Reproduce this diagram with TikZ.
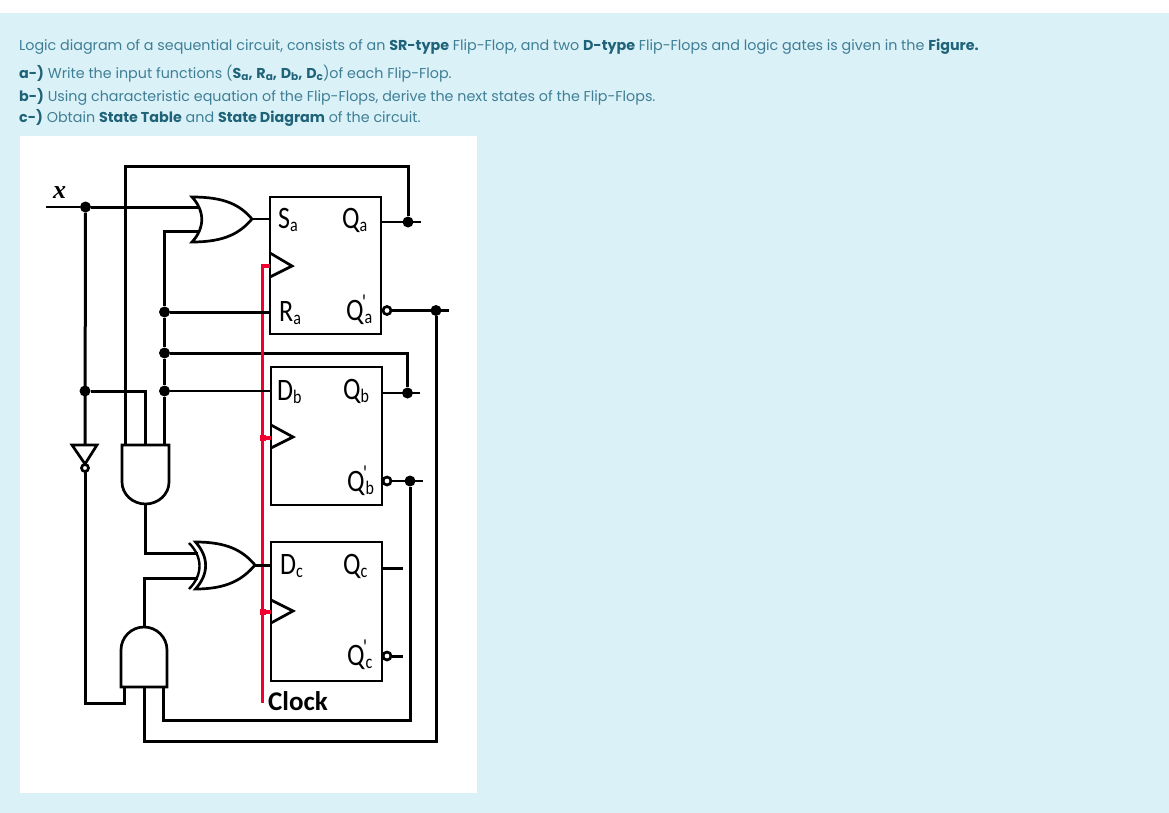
\documentclass[tikz,border=0pt]{standalone}
\usepackage{graphicx}
\usepackage{fontspec}
\setmainfont{Poppins}
\newfontfamily\cali{Carlito}
\newfontfamily\timesf{Liberation Serif}
\definecolor{pagebg}{HTML}{DBF1F8}
\definecolor{bodytxt}{HTML}{3F7F95}
\definecolor{boldtxt}{HTML}{1F6379}
\definecolor{clk}{HTML}{F0002E}
\newcommand{\bt}[1]{\textcolor{boldtxt}{\bfseries #1}}
\newcommand{\bsub}[2]{\textcolor{boldtxt}{\bfseries #1\raisebox{-2.5pt}{\fontsize{10.5}{11}\selectfont #2}}}
\newcommand{\pin}[2]{\scalebox{1}[1.2]{\cali\fontsize{26}{26}\selectfont #1\raisebox{-2.5pt}{\fontsize{16}{16}\selectfont #2}}}
\newcommand{\pinn}[2]{\scalebox{1}[1.2]{\cali\fontsize{26}{26}\selectfont #1\rlap{\raisebox{9pt}{\fontsize{18}{18}\selectfont\kern-1.5pt\textquotesingle}}\raisebox{-2.5pt}{\fontsize{16}{16}\selectfont\kern1pt #2}}}
\tikzset{
  x=1pt,y=-1pt,
  wire/.style={line width=3pt,black},
  thinwire/.style={line width=3pt,black},
  pinwire/.style={line width=2.8pt,black},
  clkwire/.style={line width=3.2pt,clk},
  gate/.style={line width=2.7pt,black,fill=white,line join=miter},
  ffbox/.style={draw=black,line width=2.7pt,fill=white,minimum width=111pt,inner sep=0pt,outer sep=0pt},
  dot/.style={circle,fill=black,inner sep=0pt,minimum size=11pt},
  bub/.style={circle,draw=black,line width=2.7pt,fill=white,inner sep=0pt,minimum size=8pt},
  rdot/.style={rectangle,fill=clk,inner sep=0pt,minimum size=6pt},
  txt/.style={anchor=base west,inner sep=0pt,text=bodytxt,font=\fontsize{14.3}{16}\selectfont},
  pinlbl/.style={inner sep=0pt,text=black,anchor=base west},
}
\begin{document}
\begin{tikzpicture}
\useasboundingbox (0,0) rectangle (1169,813);
\fill[pagebg] (0,13) rectangle (1169,813);
\fill[white] (20,136) rectangle (477,793);

\node[txt] (l1) at (19,50.5) {Logic diagram of a sequential circuit, consists of an \bt{SR-type} Flip-Flop, and two \bt{D-type} Flip-Flops and logic gates is given in the \bt{Figure.}};
\node[txt] (l2) at (19,78.5) {\bt{a-)} Write the input functions (\bsub{S}{a}\bt{,} \bsub{R}{a}\bt{,} \bsub{D}{b}\bt{,} \bsub{D}{c})of each Flip-Flop.};
\node[txt] (l3) at (19,101.5) {\bt{b-)} Using characteristic equation of the Flip-Flops, derive the next states of the Flip-Flops.};
\node[txt] (l4) at (19,122.5) {\bt{c-)} Obtain \bt{State Table} and \bt{State Diagram} of the circuit.};

% flip-flops
\node[ffbox,minimum height=137pt,anchor=north west] (ffa) at (270,197) {};
\node[ffbox,minimum height=138pt,anchor=north west] (ffb) at (271,367) {};
\node[ffbox,minimum height=139pt,anchor=north west] (ffc) at (271,542) {};

% junctions
\node[dot] (jx) at (85.5,207) {};
\node[dot] (jra) at (164.5,312) {};
\node[dot] (jqb2) at (164.5,353) {};
\node[dot] (jdb) at (164.5,391) {};
\node[dot] (jx2) at (85,391) {};
\node[dot] (jqa) at (408,222) {};
\node[dot] (jqan) at (436,310.5) {};
\node[dot] (jqb) at (407.5,393) {};
\node[dot] (jqbn) at (410,481) {};

% bubbles on the complement outputs
\node[bub] (ba) at (387,310.5) {};
\node[bub] (bb) at (387,481) {};
\node[bub] (bc) at (387,656) {};

% free ends and corners
\coordinate (xin) at (46,207);
\coordinate (orIa) at (199,207);
\coordinate (orIb) at (199,231);
\coordinate (orO) at (252,219);
\coordinate (xorIa) at (198,553);
\coordinate (xorIb) at (198,578);
\coordinate (xorO) at (255,565);
\coordinate (qaE) at (421,222);
\coordinate (qanE) at (449,310.5);
\coordinate (qbE) at (420,393);
\coordinate (qbnE) at (423,481);
\coordinate (qcE) at (403,568);
\coordinate (qcnE) at (403,656);
\coordinate (a1a) at (125,445);
\coordinate (a1b) at (145.5,445);
\coordinate (a1c) at (164.5,445);
\coordinate (a1o) at (145.5,504);
\coordinate (a2o) at (144,627);
\coordinate (a2a) at (124,687);
\coordinate (a2b) at (144,687);
\coordinate (a2c) at (163.5,687);
\coordinate (invI) at (85,445);
\coordinate (invO) at (85,472);

% wires
\draw[pinwire] (xin) -- (jx);
\draw[wire] (jx) -- (orIa);
\draw[wire,line join=miter] (a1a) -- (125,167) -- (408,167) -- (jqa);
\draw[thinwire] (jx) -- (invI);
\draw[wire] (jx2) -- (145.5,391) -- (a1b);
\draw[wire,line join=miter] (orIb) -- (164.5,231) -- (jra);
\draw[wire] (jra) -- (jqb2) -- (jdb) -- (a1c);
\draw[wire,line join=miter] (jqb2) -- (407.5,353) -- (jqb);
\draw[wire,line join=miter] (a1o) -- (145.5,553) -- (xorIa);
\draw[wire,line join=miter] (a2o) -- (144,578) -- (xorIb);
\draw[wire,line join=miter] (invO) -- (85,703) -- (124,703) -- (a2a);
\draw[wire,line join=miter] (a2c) -- (163.5,720) -- (410,720) -- (jqbn);
\draw[wire,line join=miter] (a2b) -- (144,741) -- (436,741) -- (jqan);
\draw[pinwire] (orO) -- (ffa.west |- orO);
\draw[pinwire] (ffa.east |- jqa) -- (qaE);
\draw[pinwire] (ba) -- (qanE);
\draw[pinwire] (ffb.east |- jqb) -- (qbE);
\draw[pinwire] (bb) -- (qbnE);
\draw[wire] (ffc.east |- qcE) -- (qcE);
\draw[wire] (bc) -- (qcnE);

% clock
\coordinate (clkA) at (262.5,266);
\coordinate (clkB) at (262.5,438);
\coordinate (clkC) at (262.5,612);
\coordinate (clkE) at (262.5,703);
\draw[clkwire,line join=miter] (ffa.west |- clkA) -- (clkA) -- (clkE);
\draw[clkwire] (clkB) -- (ffb.west |- clkB);
\draw[clkwire] (clkC) -- (ffc.west |- clkC);
\node[rdot] (rb) at (clkB) {};
\node[rdot] (rc) at (clkC) {};
\draw[thinwire] (jra) -- (ffa.west |- jra);
\draw[pinwire] (jdb) -- (ffb.west |- jdb);
\draw[thinwire] (xorO) -- (ffc.west |- xorO);

% clock triangles
\draw[gate,fill=none] (270,253) -- (292,266) -- (270,277);
\draw[gate,fill=none] (271,425) -- (293,437) -- (271,448);
\draw[gate,fill=none] (271,600) -- (293,611) -- (271,623);

% gates
\draw[gate] (192,197) .. controls (225,197) and (240,205) .. (orO) .. controls (240,233) and (225,242) .. (192,242) .. controls (205,228) and (205,211) .. cycle;
\draw[gate] (195.5,542) .. controls (228,542) and (243,551) .. (xorO) .. controls (243,579) and (228,589) .. (195.5,589) .. controls (209,574) and (209,557) .. cycle;
\draw[line width=2.4pt] (189,543) .. controls (203,557) and (203,575) .. (189,589);
\draw[gate] (122,445) -- (169,445) -- (169,482) arc[start angle=0,end angle=180,x radius=23.5pt,y radius=-22pt] -- cycle;
\draw[gate] (121,687) -- (167,687) -- (167,650) arc[start angle=0,end angle=180,x radius=23pt,y radius=23pt] -- cycle;
\draw[gate] (72,445) -- (97,445) -- (85,464) -- cycle;
\node[bub,minimum size=7pt] (binv) at (85,468) {};

% labels
\node[pinlbl] (lsa) at (278,228) {\pin{S}{a}};
\node[pinlbl] (lqa) at (342,228) {\pin{Q}{a}};
\node[pinlbl] (lra) at (279,321) {\pin{R}{a}};
\node[pinlbl] (lqna) at (346,320) {\pinn{Q}{a}};
\node[pinlbl] (ldb) at (277,400) {\pin{D}{b}};
\node[pinlbl] (lqb) at (343,399) {\pin{Q}{b}};
\node[pinlbl] (lqnb) at (347,491) {\pinn{Q}{b}};
\node[pinlbl] (ldc) at (280,574) {\pin{D}{c}};
\node[pinlbl] (lqc) at (343,574) {\pin{Q}{c}};
\node[pinlbl] (lqnc) at (347,665) {\pinn{Q}{c}};
\node[pinlbl,font=\cali\bfseries\fontsize{27}{27}\selectfont] (lclk) at (268,710) {Clock};
\node[pinlbl,font=\timesf\bfseries\itshape\fontsize{26}{26}\selectfont] (lx) at (53,199) {x};
\end{tikzpicture}
\end{document}
